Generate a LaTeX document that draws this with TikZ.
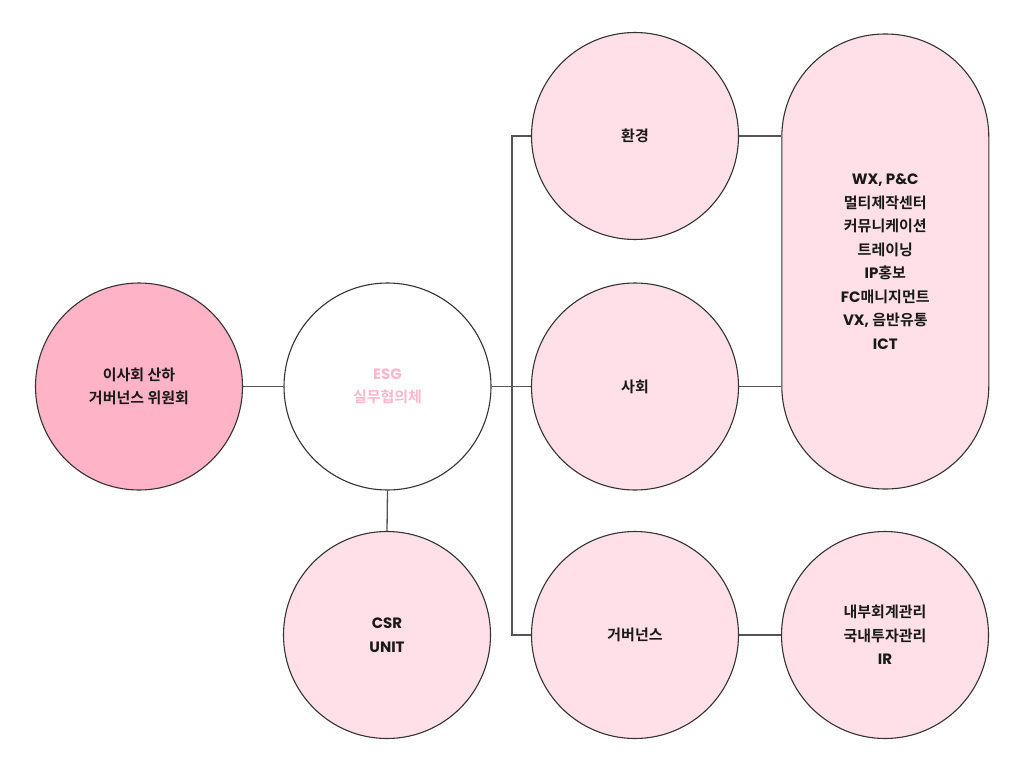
\documentclass[tikz,border=0pt]{standalone}
\usepackage{fontspec}
\setmainfont{Noto Sans CJK KR}[BoldFont={Noto Sans CJK KR Bold}]
\newfontfamily\latf{Poppins}[BoldFont={Poppins Bold}]
\newcommand\La[1]{{\latf\bfseries #1}}
\definecolor{strongpink}{HTML}{FFB3C6}
\definecolor{lightpink}{HTML}{FFE0E8}
\definecolor{esgpink}{HTML}{FFB8CA}
\definecolor{edgegray}{HTML}{333333}
\definecolor{linegray}{HTML}{555555}
\tikzset{
  orgcircle/.style={circle, draw=edgegray, line width=1.1pt, minimum size=207pt, inner sep=0pt,
    align=center, text=black!90, font=\bfseries\fontsize{15}{23.5}\selectfont},
  pillbox/.style={rectangle, rounded corners=103pt, draw=edgegray, line width=1.1pt, fill=lightpink,
    minimum width=207pt, minimum height=455pt, inner sep=0pt, align=center, text=black!90,
    font=\bfseries\fontsize{15}{23.5}\selectfont},
  conn/.style={draw=linegray, line width=1.3pt}
}
\begin{document}
\begin{tikzpicture}[x=1pt,y=-1pt]
\useasboundingbox (0,0) rectangle (1024,773);
\node[orgcircle, fill=strongpink] (board) at (139,386.5) {이사회 산하\\거버넌스 위원회};
\node[orgcircle, fill=white, text=esgpink] (esg) at (387.5,386.5) {\La{ESG}\\실무협의체};
\node[orgcircle, fill=lightpink] (csr) at (387,635) {\La{CSR}\\\La{UNIT}};
\node[orgcircle, fill=lightpink] (env) at (635,136) {환경};
\node[orgcircle, fill=lightpink] (soc) at (635,386.5) {사회};
\node[orgcircle, fill=lightpink] (gov) at (635,635) {거버넌스};
\node[pillbox] (pill) at (885.3,261.5) {\La{WX, P\&C}\\멀티제작센터\\커뮤니케이션\\트레이닝\\\La{IP}홍보\\\La{FC}매니지먼트\\\La{VX,} 음반유통\\\La{ICT}};
\node[orgcircle, fill=lightpink] (ir) at (885,635) {내부회계관리\\국내투자관리\\\La{IR}};
\coordinate (junc) at (512,386.5);
\draw[conn] (board.east) -- (esg.west);
\draw[conn] (esg.east) -- (soc.west);
\draw[conn] (env.west) -- (env.west -| junc) -- (gov.west -| junc) -- (gov.west);
\draw[conn] (esg.south) -- (csr.north);
\draw[conn] (env.east) -- (env.east -| pill.west);
\draw[conn] (soc.east) -- (soc.east -| pill.west);
\draw[conn] (gov.east) -- (ir.west);
\end{tikzpicture}
\end{document}
